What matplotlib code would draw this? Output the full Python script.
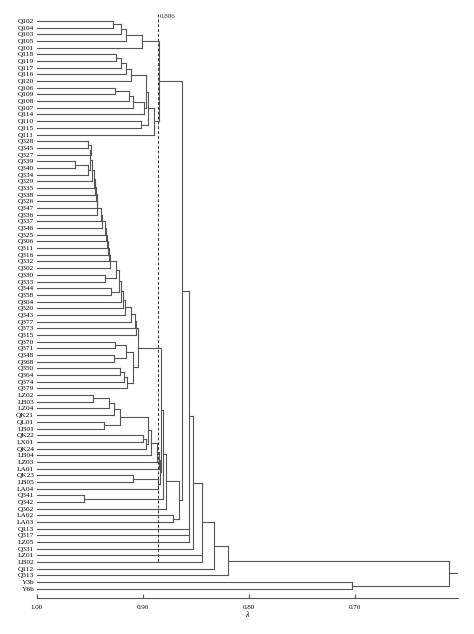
import matplotlib
matplotlib.use("Agg")
import matplotlib.pyplot as plt

# --- DATA: merge trees as (similarity, child, child, ...) ---
grp_q1a = (0.901, (0.916, (0.921, (0.928, "Q102", "Q104"), "Q103"), "Q105"), "Q101")
grp_q1b = (0.911, (0.916, (0.921, (0.925, "Q118", "Q119"), "Q117"), "Q116"), "Q120")
grp_q1c = (0.899, (0.909, (0.913, (0.926, "Q106", "Q109"), "Q108"), "Q107"), "Q114")
grp_q1 = (0.885, grp_q1a,
          (0.890, (0.895, (0.897, grp_q1b, grp_q1c), (0.902, "Q110", "Q115")), "Q111"))

chain_q3 = (0.950, (0.949, (0.952, "Q328", "Q345"), "Q327"),
            (0.952, (0.964, "Q339", "Q340"), "Q334"))
for h, leaf in [(0.948, "Q329"), (0.946, "Q335"), (0.945, "Q338"), (0.944, "Q326"),
                (0.9435, "Q347"), (0.943, "Q336"), (0.940, "Q337"), (0.939, "Q346"),
                (0.936, "Q325"), (0.935, "Q306"), (0.934, "Q311"), (0.933, "Q316"),
                (0.932, "Q332"), (0.931, "Q302")]:
    chain_q3 = (h, chain_q3, leaf)
chain_q3 = (0.925, chain_q3, (0.936, "Q330", "Q333"))
chain_q3 = (0.923, chain_q3, (0.930, "Q344", "Q358"))
for h, leaf in [(0.921, "Q304"), (0.919, "Q320"), (0.917, "Q343"), (0.911, "Q377"),
                (0.908, "Q373"), (0.907, "Q315")]:
    chain_q3 = (h, chain_q3, leaf)
grp_q3b = (0.909, (0.916, (0.926, "Q370", "Q371"), (0.927, "Q348", "Q368")),
           (0.915, (0.918, (0.922, "Q350", "Q364"), "Q374"), "Q379"))
grp_q3 = (0.905, chain_q3, grp_q3b)

grp_l = (0.895, (0.922, (0.927, (0.932, (0.947, "LZ02", "LB03"), "LZ04"), "QK21"),
                 (0.937, "QL01", "LB01")),
         (0.897, (0.900, "QK22", "LX01"), "QK24"))
grp_l = (0.8845, (0.887, (0.892, grp_l, "LB04"), "LZ03"), "LA01")
grp_d = (0.886, (0.909, "QK23", "LB05"), "LA04")

node = (0.883, grp_q3, (0.8838, grp_l, grp_d))
node = (0.881, node, (0.956, "Q341", "Q342"))
node = (0.878, node, "Q362")
node = (0.866, node, (0.872, "LA02", "LA03"))
node = (0.863, grp_q1, node)
node = (0.857, node, "Q113", "Q317", "LZ05")
node = (0.853, node, "Q331")
node = (0.844, node, "LZ01", "LB02")
node = (0.833, node, "Q112")
node = (0.820, node, "Q313")
tree = (0.611, node, (0.703, "Y3b", "Y6b"))

cut_value = 0.886
xticks = [1.00, 0.90, 0.80, 0.70]

# --- DRAW ---
plt.rcParams['font.family'] = ['Liberation Serif', 'DejaVu Serif']
fig = plt.figure(figsize=(4.74, 6.34), dpi=100)
ax = fig.add_axes([0.078, 0.057, 0.888, 0.921])
lc = '#555555'
labels = []


def draw(n):
    if isinstance(n, str):
        labels.append(n)
        return len(labels) - 1, 1.0
    h = n[0]
    pos = []
    for c in n[1:]:
        y, ch = draw(c)
        ax.plot([ch, h], [y, y], color=lc, lw=0.8)
        pos.append(y)
    ax.plot([h, h], [min(pos), max(pos)], color=lc, lw=0.8)
    return (min(pos) + max(pos)) / 2, h


ry, rh = draw(tree)
ax.plot([rh, 0.603], [ry, ry], color=lc, lw=0.8)

ax.plot([cut_value, cut_value], [-1.0, 81.0], color='#333333', lw=0.7, ls=(0, (3, 2)))
ax.text(cut_value - 0.002, -0.6, f"{cut_value:.3f}", fontsize=5, color='#333333', va='center')

ax.set_xlim(1.0, 0.603)
ax.set_ylim(len(labels) - 1 + 1.35, -1.05)
ax.set_yticks(range(len(labels)))
ax.set_yticklabels(labels, fontsize=5.3)
ax.tick_params(axis='y', length=0, pad=2)
ax.set_xticks(xticks)
ax.set_xticklabels([f"{v:.2f}" for v in xticks], fontsize=5)
ax.tick_params(axis='x', direction='in', length=3, color=lc, pad=5)
for s in ['top', 'right', 'left']:
    ax.spines[s].set_visible(False)
ax.spines['bottom'].set_color(lc)
ax.spines['bottom'].set_linewidth(0.8)
ax.set_xlabel("λ", fontsize=6, style='italic', labelpad=1)

fig.savefig("out.png", dpi=100)
